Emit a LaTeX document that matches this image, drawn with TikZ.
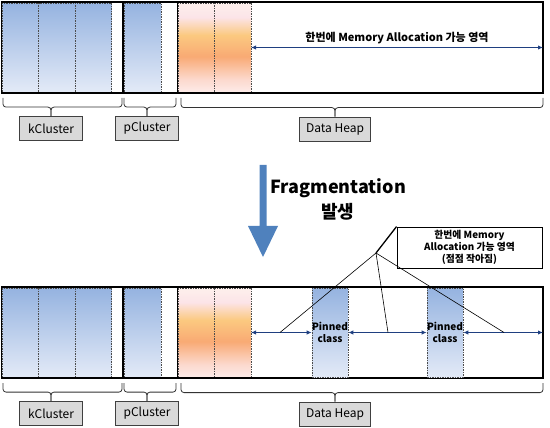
\documentclass[tikz,border=0pt]{standalone}
\usepackage{fontspec}
\setmainfont{Noto Sans CJK KR}
\usetikzlibrary{arrows.meta,positioning}

\definecolor{bluehi}{HTML}{95B3E0}
\definecolor{bluelo}{HTML}{E3EAF7}
\definecolor{navy}{HTML}{1F3F80}
\definecolor{downblue}{HTML}{4F81BD}
\definecolor{taggray}{HTML}{D9D9D9}
\definecolor{oa}{HTML}{FDF0EC}
\definecolor{ob}{HTML}{FCE4E8}
\definecolor{oc}{HTML}{FBC980}
\definecolor{od}{HTML}{F9AA74}
\definecolor{oe}{HTML}{FCD9CE}
\definecolor{of}{HTML}{FDEBE8}
\pgfdeclareverticalshading{heapshade}{100bp}{color(0bp)=(of); color(25bp)=(of);
  color(32bp)=(oe); color(45bp)=(od); color(57bp)=(oc); color(67bp)=(ob);
  color(75bp)=(oa); color(100bp)=(oa)}

\tikzset{
  frame/.style={draw=black,line width=1.8pt},
  cell/.style={draw=black!70,dash pattern=on 1.5pt off 1pt,line width=0.6pt},
  kcell/.style={cell,top color=bluehi,bottom color=bluelo},
  heapcell/.style={cell,shading=heapshade},
  tag/.style={draw=black!75,fill=taggray,line width=0.8pt,minimum width=63pt,
    minimum height=24pt,inner sep=1pt,font=\fontsize{12}{14}\selectfont},
  brace/.style={draw=black!80,line width=0.8pt,rounded corners=3pt},
  span/.style={draw=navy,line width=1.1pt,{Latex[length=5pt,width=4.5pt]}-{Latex[length=5pt,width=4.5pt]}},
  pinned/.style={kcell,minimum width=36pt,minimum height=89pt,inner sep=0pt,align=center,
    font=\bfseries\fontsize{10}{12}\selectfont},
}

\begin{document}
\begin{tikzpicture}[x=1pt,y=-1pt]
\useasboundingbox (0,0) rectangle (550,428);

% the two memory rows
\foreach \dy/\r in {0/t,285/b}{
\begin{scope}[yshift=-\dy pt]
  \foreach \x in {2,38.5,75} \path[kcell] (\x,3) rectangle +(36.5,89);
  \path[kcell] (124,3) rectangle (161,92);
  \path[heapcell] (178,3) rectangle (214.5,92);
  \path[heapcell] (214.5,3) rectangle (251,92);
  \draw[frame] (1.5,2) rectangle (123,93);
  \draw[frame] (123,2) rectangle (177.5,93);
  \draw[frame] (177.5,2) rectangle (543,93);

  \node[tag] (kc\r) at (51,128.5) {kCluster};
  \node[tag] (pc\r) at (147,128.5) {pCluster};
  \node[tag,minimum width=71pt] (dh\r) at (335,129) {Data Heap};

  \draw[brace] (3,98) |- ([yshift=9pt]kc\r.north) -- (kc\r.north);
  \draw[brace] (kc\r.north) -- ([yshift=9pt]kc\r.north) -| (122,98);
  \draw[brace] (124,98) |- ([yshift=9pt]pc\r.north) -- (pc\r.north);
  \draw[brace] (pc\r.north) -- ([yshift=9pt]pc\r.north) -| (176,98);
  \draw[brace] (181,98) |- ([yshift=9pt]dh\r.north) -- (dh\r.north);
  \draw[brace] (dh\r.north) -- ([yshift=9pt]dh\r.north) -| (543,98);
\end{scope}
}

% before fragmentation
\coordinate (hs) at (251,47.5);
\coordinate (he) at (543,47.5);
\draw[span] (hs) -- node[above=0pt,font=\bfseries\fontsize{11}{13}\selectfont] (free) {한번에 Memory Allocation 가능 영역} (he);

% fragmentation
\fill[downblue] (259.5,165) -- (266.5,165) -- (266.5,226) -- (278,226) -- (263,257)
  -- (248,226) -- (259.5,226) -- cycle;
\node[align=center,font=\bfseries\fontsize{18}{25}\selectfont] (frag) at (338,199.5) {Fragmentation\\발생};

% after fragmentation
\node[pinned] (pin1) at (330,332.5) {Pinned\\class};
\node[pinned] (pin2) at (445,332.5) {Pinned\\class};
\coordinate (bs) at (251,332.5);
\coordinate (be) at (543,332.5);
\draw[span] (bs) -- (pin1.west);
\draw[span] (pin1.east) -- (pin2.west);
\draw[span] (pin2.east) -- (be);

\node[draw,line width=0.9pt,minimum width=145pt,minimum height=41pt,inner sep=1pt,align=center,
  font=\bfseries\fontsize{9.8}{12}\selectfont] (note) at (469.5,247.5)
  {한번에 Memory\\Allocation 가능 영역\\(점점 작아짐)};
\coordinate (hub) at (376,253);
\coordinate (gap1) at (280,332.5);
\coordinate (gap2) at (388,332.5);
\coordinate (gap3) at (504,332.5);
\draw[line width=1.3pt] (note.north west) -- (hub);
\foreach \g in {gap1,gap2,gap3} \draw[line width=0.6pt] (hub) -- (\g);
\end{tikzpicture}
\end{document}
